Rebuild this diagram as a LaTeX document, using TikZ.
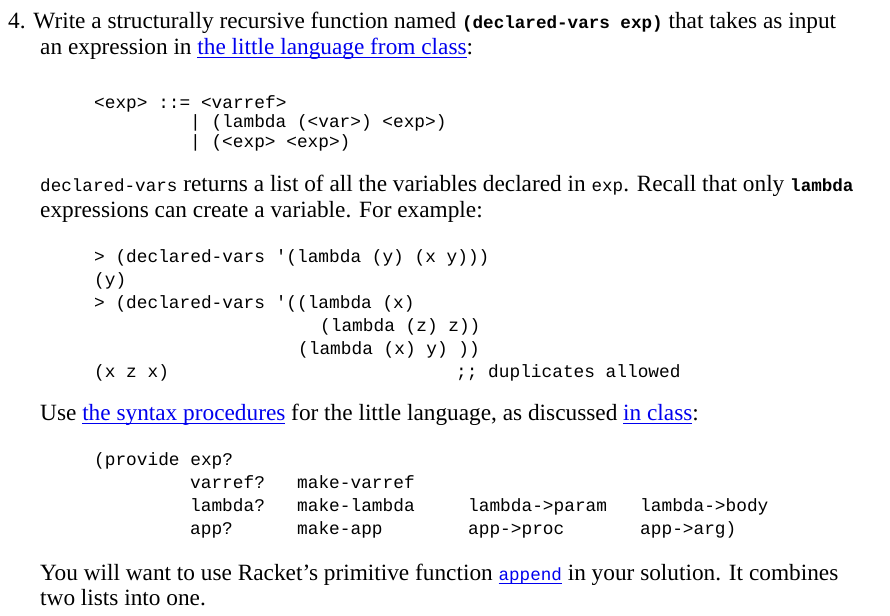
\documentclass[tikz,border=0pt]{standalone}
\usepackage{fontspec}
\setmainfont{Liberation Serif}
\setmonofont{Liberation Mono}
\definecolor{lnk}{HTML}{0000EE}
\newcommand{\lk}[1]{\textcolor{lnk}{\setbox0\hbox{#1}\rlap{\rule[-3.5pt]{\wd0}{1pt}}\box0}}
\newcommand{\mm}[1]{{\fontsize{17.6}{20}\ttfamily #1}}
\newcommand{\mb}[1]{{\fontsize{17.6}{20}\ttfamily\bfseries #1}}
\begin{document}
\begin{tikzpicture}[x=1pt,y=-1pt,
  tx/.style={anchor=base west,inner sep=0pt,font=\fontsize{23.3}{26}\selectfont},
  cd/.style={anchor=base west,inner sep=0pt,font=\fontsize{17.8}{20}\ttfamily}]
\useasboundingbox[fill=white] (0,0) rectangle (890,615);
\node[tx] (l1) at (8,29) {4. Write a structurally recursive function named \mb{(declared-vars exp)} that takes as input};
\node[tx] (l2) at (40,55) {an expression in \lk{the little language from class}:};
\node[cd] (g1) at (94,108) {<exp> ::= <varref>};
\node[cd] (g2) at (190,127) {| (lambda (<var>) <exp>)};
\node[cd] (g3) at (190,147) {| (<exp> <exp>)};
\node[tx] (l3) at (40,191) {\mm{declared-vars} returns a list of all the variables declared in \mm{exp}. Recall that only \mb{lambda}};
\node[tx] (l4) at (40,217) {expressions can create a variable. For example:};
\node[cd] (c1) at (94,262) {> (declared-vars {\char"27}(lambda (y) (x y)))};
\node[cd] (c2) at (94,285) {(y)};
\node[cd] (c3) at (94,308) {> (declared-vars {\char"27}((lambda (x)};
\node[cd] (c4) at (320,331) {(lambda (z) z))};
\node[cd] (c5) at (298,354) {(lambda (x) y) ))};
\node[cd] (c6) at (94,377) {(x z x)};
\node[cd] (c7) at (456,377) {;; duplicates allowed};
\node[tx] (l5) at (40,420) {Use \lk{the syntax procedures} for the little language, as discussed \lk{in class}:};
\node[cd] (p1) at (94,465) {(provide exp?};
\node[cd] (p2) at (190,488) {varref?};
\node[cd] (p3) at (297,488) {make-varref};
\node[cd] (p4) at (190,511) {lambda?};
\node[cd] (p5) at (297,511) {make-lambda};
\node[cd] (p6) at (468,511) {lambda->param};
\node[cd] (p7) at (640,511) {lambda->body};
\node[cd] (p8) at (190,534) {app?};
\node[cd] (p9) at (297,534) {make-app};
\node[cd] (p10) at (468,534) {app->proc};
\node[cd] (p11) at (640,534) {app->arg)};
\node[tx] (l6) at (40,580) {You will want to use Racket{\char"27}s primitive function \lk{\mm{append}} in your solution. It combines};
\node[tx] (l7) at (40,605) {two lists into one.};
\end{tikzpicture}
\end{document}
